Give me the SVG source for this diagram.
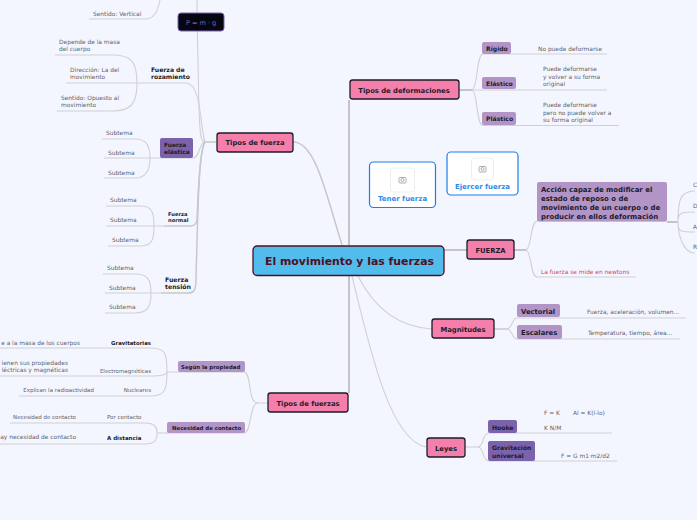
<svg xmlns="http://www.w3.org/2000/svg" width="697" height="520" viewBox="0 0 697 520">
<style>
text{font-family:"DejaVu Sans",Verdana,sans-serif;fill:#1c1c2a}
.c path{fill:none;stroke:#d0d0d4;stroke-width:1.100}
.c path.t{stroke:#c4c4c8;stroke-width:2}
.c path.u{stroke:#c8c8cc;stroke-width:1.500}
.m{fill:#f57fab;stroke:#1c1c2a;stroke-width:1.300}
.mt{font-size:6.800px;font-weight:bold;text-anchor:middle}
.p{fill:#b295c6}
.d{fill:#7a62ad}
.b{font-size:6.800px;font-weight:bold}
.s{font-size:5.900px;fill:#5f5f66}
.l{font-size:5.500px;fill:#5f5f66}
.bx{fill:#fff;stroke:#1a7fe8;stroke-width:1.200}
.ic{fill:#fff;stroke:#eeeeee;stroke-width:1}
.bl{font-size:7px;font-weight:bold;fill:#2f8be6;text-anchor:middle}
</style>
<rect width="697" height="520" fill="#f4f6ff"/>
<g id="connectors" class="c">
<path class="t" d="M349 245V100"/>
<path class="t" d="M349 276V393"/>
<path class="t" d="M417 250H467"/>
<path class="u" d="M293 142C315 142 325 190 342 245"/>
<path d="M358 276C375 310 400 327 432 329"/>
<path d="M352 276C370 350 390 440 426 447"/>
<path class="t" d="M459 90H472"/>
<path d="M472 90C478 88 476 55 483 54H607"/>
<path d="M472 90H607"/>
<path d="M472 90C478 92 476 125 483 125.500H619"/>
<path class="t" d="M514 250H526"/>
<path d="M526 250C532 248 530 222 537 221H667"/>
<path d="M526 250C532 252 530 277 537 277H636"/>
<path class="t" d="M667 222H678"/>
<path d="M678 222C678 200 680 191 695 191M678 222C678 212 682 212 695 212M678 222C678 232 682 253 695 253M678 222C678 232 680 232 695 232"/>
<path class="u" d="M494 329H507"/>
<path d="M507 329C512 329 512 318 517 318H686"/>
<path d="M507 329C512 329 512 339 517 339H680"/>
<path d="M465 447H478"/>
<path d="M478 447C484 447 482 433 489 433H612"/>
<path d="M478 447C484 447 482 461 489 461H617"/>
<path class="u" d="M216 142H205"/>
<path d="M205 142C200 142 200 130 199 110C198 60 197 20 197 0"/>
<path d="M205 142C200 130 202 83 186 83H148"/>
<path d="M205 142C199 142 200 158 193 158H160"/>
<path class="u" d="M205 142C199 150 198 200 197 220C196 226 192 226 190 226H164"/>
<path class="u" d="M205 142C199 150 198 200 196 280C196 293 192 293 187 293H161"/>
<path d="M148 83H66M137 83C137 60 130 55 112 55H55M137 83C137 105 130 111 112 111H57"/>
<path d="M160 158H104M150 158C150 145 146 139 135 139H102M150 158C150 170 146 178 135 178H104"/>
<path d="M164 226H106M154 226C154 212 152 206 140 206H106M154 226C154 240 152 246 140 246H108"/>
<path d="M161 293H105M151 293C151 280 148 274 135 274H103M151 293C151 306 148 313 135 313H105"/>
<path d="M268 403H258C247 403 252 372 244 372H178"/>
<path d="M258 403C249 403 252 433 244 433H167"/>
<path d="M178 372H167M167 372C167 352 165 348 150 348H0M167 372C167 375 160 376 150 376H0M167 372C167 390 165 396 150 396H19"/>
<path d="M167 433H157M157 433C157 427 155 423 145 423H10M157 433C157 440 155 444 145 444H0"/>
<path d="M89 19H145C155 19 158 10 160 0"/>
</g>
<g id="center"><rect x="253" y="246" width="191" height="29.500" rx="4" fill="#52bcec" stroke="#4f0f22" stroke-width="1.300"/><text x="349.500" y="265" text-anchor="middle" style="font-size:10.900px;font-weight:bold;fill:#4f0f22">El movimiento y las fuerzas</text></g>
<g id="n-tipos-fuerza"><rect x="217" y="133" width="76" height="19" rx="2.500" class="m"/><text x="255" y="145" class="mt">Tipos de fuerza</text></g>
<g id="n-deformaciones"><rect x="350" y="80" width="109" height="19" rx="2.500" class="m"/><text x="404" y="93" class="mt">Tipos de deformaciones</text></g>
<g id="n-fuerza"><rect x="467" y="240" width="47" height="19" rx="2.500" class="m"/><text x="490.500" y="252.500" class="mt">FUERZA</text></g>
<g id="n-magnitudes"><rect x="432" y="319" width="62" height="19" rx="2.500" class="m"/><text x="463" y="332" class="mt">Magnitudes</text></g>
<g id="n-leyes"><rect x="427" y="438" width="38" height="19" rx="2.500" class="m"/><text x="446" y="450.500" class="mt">Leyes</text></g>
<g id="n-tipos-fuerzas"><rect x="268" y="393" width="80" height="19" rx="2.500" class="m"/><text x="308" y="406" class="mt">Tipos de fuerzas</text></g>
<g id="n-pmg"><rect x="178" y="13" width="46" height="18" rx="3" fill="#060612" stroke="#7a62ad"/><text x="201" y="24.500" text-anchor="middle" style="font-size:6.500px;fill:#7a62ad">P = m · g</text></g>
<g id="n-vertical"><text x="93" y="16" class="s">Sentido: Vertical</text></g>
<g id="n-roz"><text x="151" y="71.500" class="b" style="font-size:6.100px">Fuerza de</text><text x="151" y="78.500" class="b" style="font-size:6.100px">rozamiento</text>
<text x="59" y="44" class="s">Depende de la masa</text><text x="59" y="51" class="s">del cuerpo</text>
<text x="70" y="72" class="s">Dirección: La del</text><text x="70" y="79" class="s">movimiento</text>
<text x="61" y="100" class="s">Sentido: Opuesto al</text><text x="61" y="107" class="s">movimiento</text></g>
<g id="n-elastica"><rect x="160" y="138" width="33" height="20" rx="2" class="d"/><text x="164" y="147" class="b" style="font-size:5.900px">Fuerza</text><text x="164" y="154" class="b" style="font-size:5.900px">elástica</text>
<text x="106" y="135" class="s">Subtema</text><text x="108" y="155" class="s">Subtema</text><text x="108" y="175" class="s">Subtema</text></g>
<g id="n-normal"><text x="168" y="216" class="b" style="font-size:5.200px">Fuerza</text><text x="168" y="222" class="b" style="font-size:5.200px">normal</text>
<text x="110" y="202" class="s">Subtema</text><text x="110" y="222" class="s">Subtema</text><text x="112" y="242" class="s">Subtema</text></g>
<g id="n-tension"><text x="165" y="282" class="b" style="font-size:6.200px">Fuerza</text><text x="165" y="289" class="b" style="font-size:6.200px">tensión</text>
<text x="107" y="270" class="s">Subtema</text><text x="109" y="290" class="s">Subtema</text><text x="109" y="309" class="s">Subtema</text></g>
<g id="n-propiedad"><rect x="178" y="361" width="67" height="11" rx="2" class="p"/><text x="181" y="369" class="b" style="font-size:5.400px">Según la propiedad</text></g>
<g id="n-contacto"><rect x="167" y="422" width="78" height="11" rx="2" class="p"/><text x="172" y="430" class="b" style="font-size:5.400px">Necesidad de contacto</text></g>
<g id="n-grav"><text x="151" y="345" text-anchor="end" class="b" style="font-size:5.400px">Gravitatorias</text><text x="80" y="345" text-anchor="end" class="s">e a la masa de los cuerpos</text></g>
<g id="n-electro"><text x="151" y="373" text-anchor="end" class="l">Electromagnéticas</text><text x="68" y="365" text-anchor="end" class="s">ienen sus propiedades</text><text x="68" y="372" text-anchor="end" class="s">léctricas y magnéticas</text></g>
<g id="n-nucleares"><text x="151" y="392" text-anchor="end" class="l">Nucleares</text><text x="94" y="392" text-anchor="end" class="l">Explican la radioactividad</text></g>
<g id="n-porcontacto"><text x="107" y="419" class="l">Por contacto</text><text x="76" y="419" text-anchor="end" class="l">Necesidad de contacto</text></g>
<g id="n-adistancia"><text x="107" y="440" class="b" style="font-size:5.500px">A distancia</text><text x="76" y="439" text-anchor="end" class="s">ay necesidad de contacto</text></g>
<g id="n-rigido"><rect x="482" y="42" width="29" height="12" rx="2" class="p"/><text x="486" y="50.500" class="b" style="font-size:6.100px">Rígido</text><text x="538" y="51" class="s">No puede deformarse</text></g>
<g id="n-elastico"><rect x="482" y="77" width="34" height="12" rx="2" class="p"/><text x="486" y="86" class="b" style="font-size:6.100px">Elástico</text><text x="543" y="71" class="s">Puede deformarse</text><text x="543" y="79" class="s">y volver a su forma</text><text x="543" y="86" class="s">original</text></g>
<g id="n-plastico"><rect x="482" y="112" width="34" height="13" rx="2" class="p"/><text x="486" y="121" class="b" style="font-size:6.100px">Plástico</text><text x="543" y="107" class="s">Puede deformarse</text><text x="543" y="114.500" class="s">pero no puede volver a</text><text x="543" y="122" class="s">su forma original</text></g>
<g id="n-tener"><rect x="369.500" y="162" width="66" height="45.500" rx="4" class="bx"/><rect x="390.500" y="168" width="24" height="24" rx="3" class="ic"/><g fill="none" stroke="#999" stroke-width=".8"><rect x="399" y="177.500" width="7" height="5.500" rx="1"/><circle cx="402.500" cy="180" r="1.500"/></g><text x="402.500" y="201" class="bl">Tener fuerza</text></g>
<g id="n-ejercer"><rect x="447" y="152" width="71" height="43" rx="4" class="bx"/><rect x="471.500" y="158" width="22" height="22" rx="3" class="ic"/><g fill="none" stroke="#999" stroke-width=".8"><rect x="479" y="166.500" width="7" height="5.500" rx="1"/><circle cx="482.500" cy="169" r="1.500"/></g><text x="482.500" y="189" class="bl">Ejercer fuerza</text></g>
<g id="n-accion"><rect x="537" y="182" width="130" height="39.500" rx="2" class="p"/><g style="font-size:6.950px;font-weight:bold"><text x="541" y="192">Acción capaz de modificar el</text><text x="541" y="201">estado de reposo o de</text><text x="541" y="209.500">movimiento de un cuerpo o de</text><text x="541" y="218.500">producir en ellos deformación</text></g>
<text x="693" y="187" class="s">C</text><text x="693" y="208" class="s">D</text><text x="693" y="229" class="s">A</text><text x="693" y="249" class="s">R</text></g>
<g id="n-newtons"><text x="541" y="273.500" style="font-size:5.900px;fill:#d63c6e">La fuerza se mide en newtons</text></g>
<g id="n-vectorial"><rect x="517" y="304" width="43" height="13" rx="2" class="p"/><text x="521" y="314" class="b">Vectorial</text><text x="587" y="314" class="s">Fuerza, aceleración, volumen...</text></g>
<g id="n-escalares"><rect x="517" y="325" width="45" height="14" rx="2" class="p"/><text x="521" y="335" class="b">Escalares</text><text x="588" y="335" class="s">Temperatura, tiempo, área...</text></g>
<g id="n-hooke"><rect x="488" y="420" width="29" height="13" rx="2" class="d"/><text x="492" y="429.500" class="b" style="font-size:6.100px">Hooke</text><text x="544" y="415" class="s">F = K</text><text x="573" y="415" class="s">Al = K(l-lo)</text><text x="544" y="430" class="s">K N/M</text></g>
<g id="n-gravitacion"><rect x="488" y="441" width="47" height="20" rx="2" class="d"/><text x="492" y="450" class="b" style="font-size:6.100px">Gravitación</text><text x="492" y="457.500" class="b" style="font-size:6.100px">universal</text><text x="561" y="458" class="s">F = G m1·m2/d2</text></g>
</svg>
